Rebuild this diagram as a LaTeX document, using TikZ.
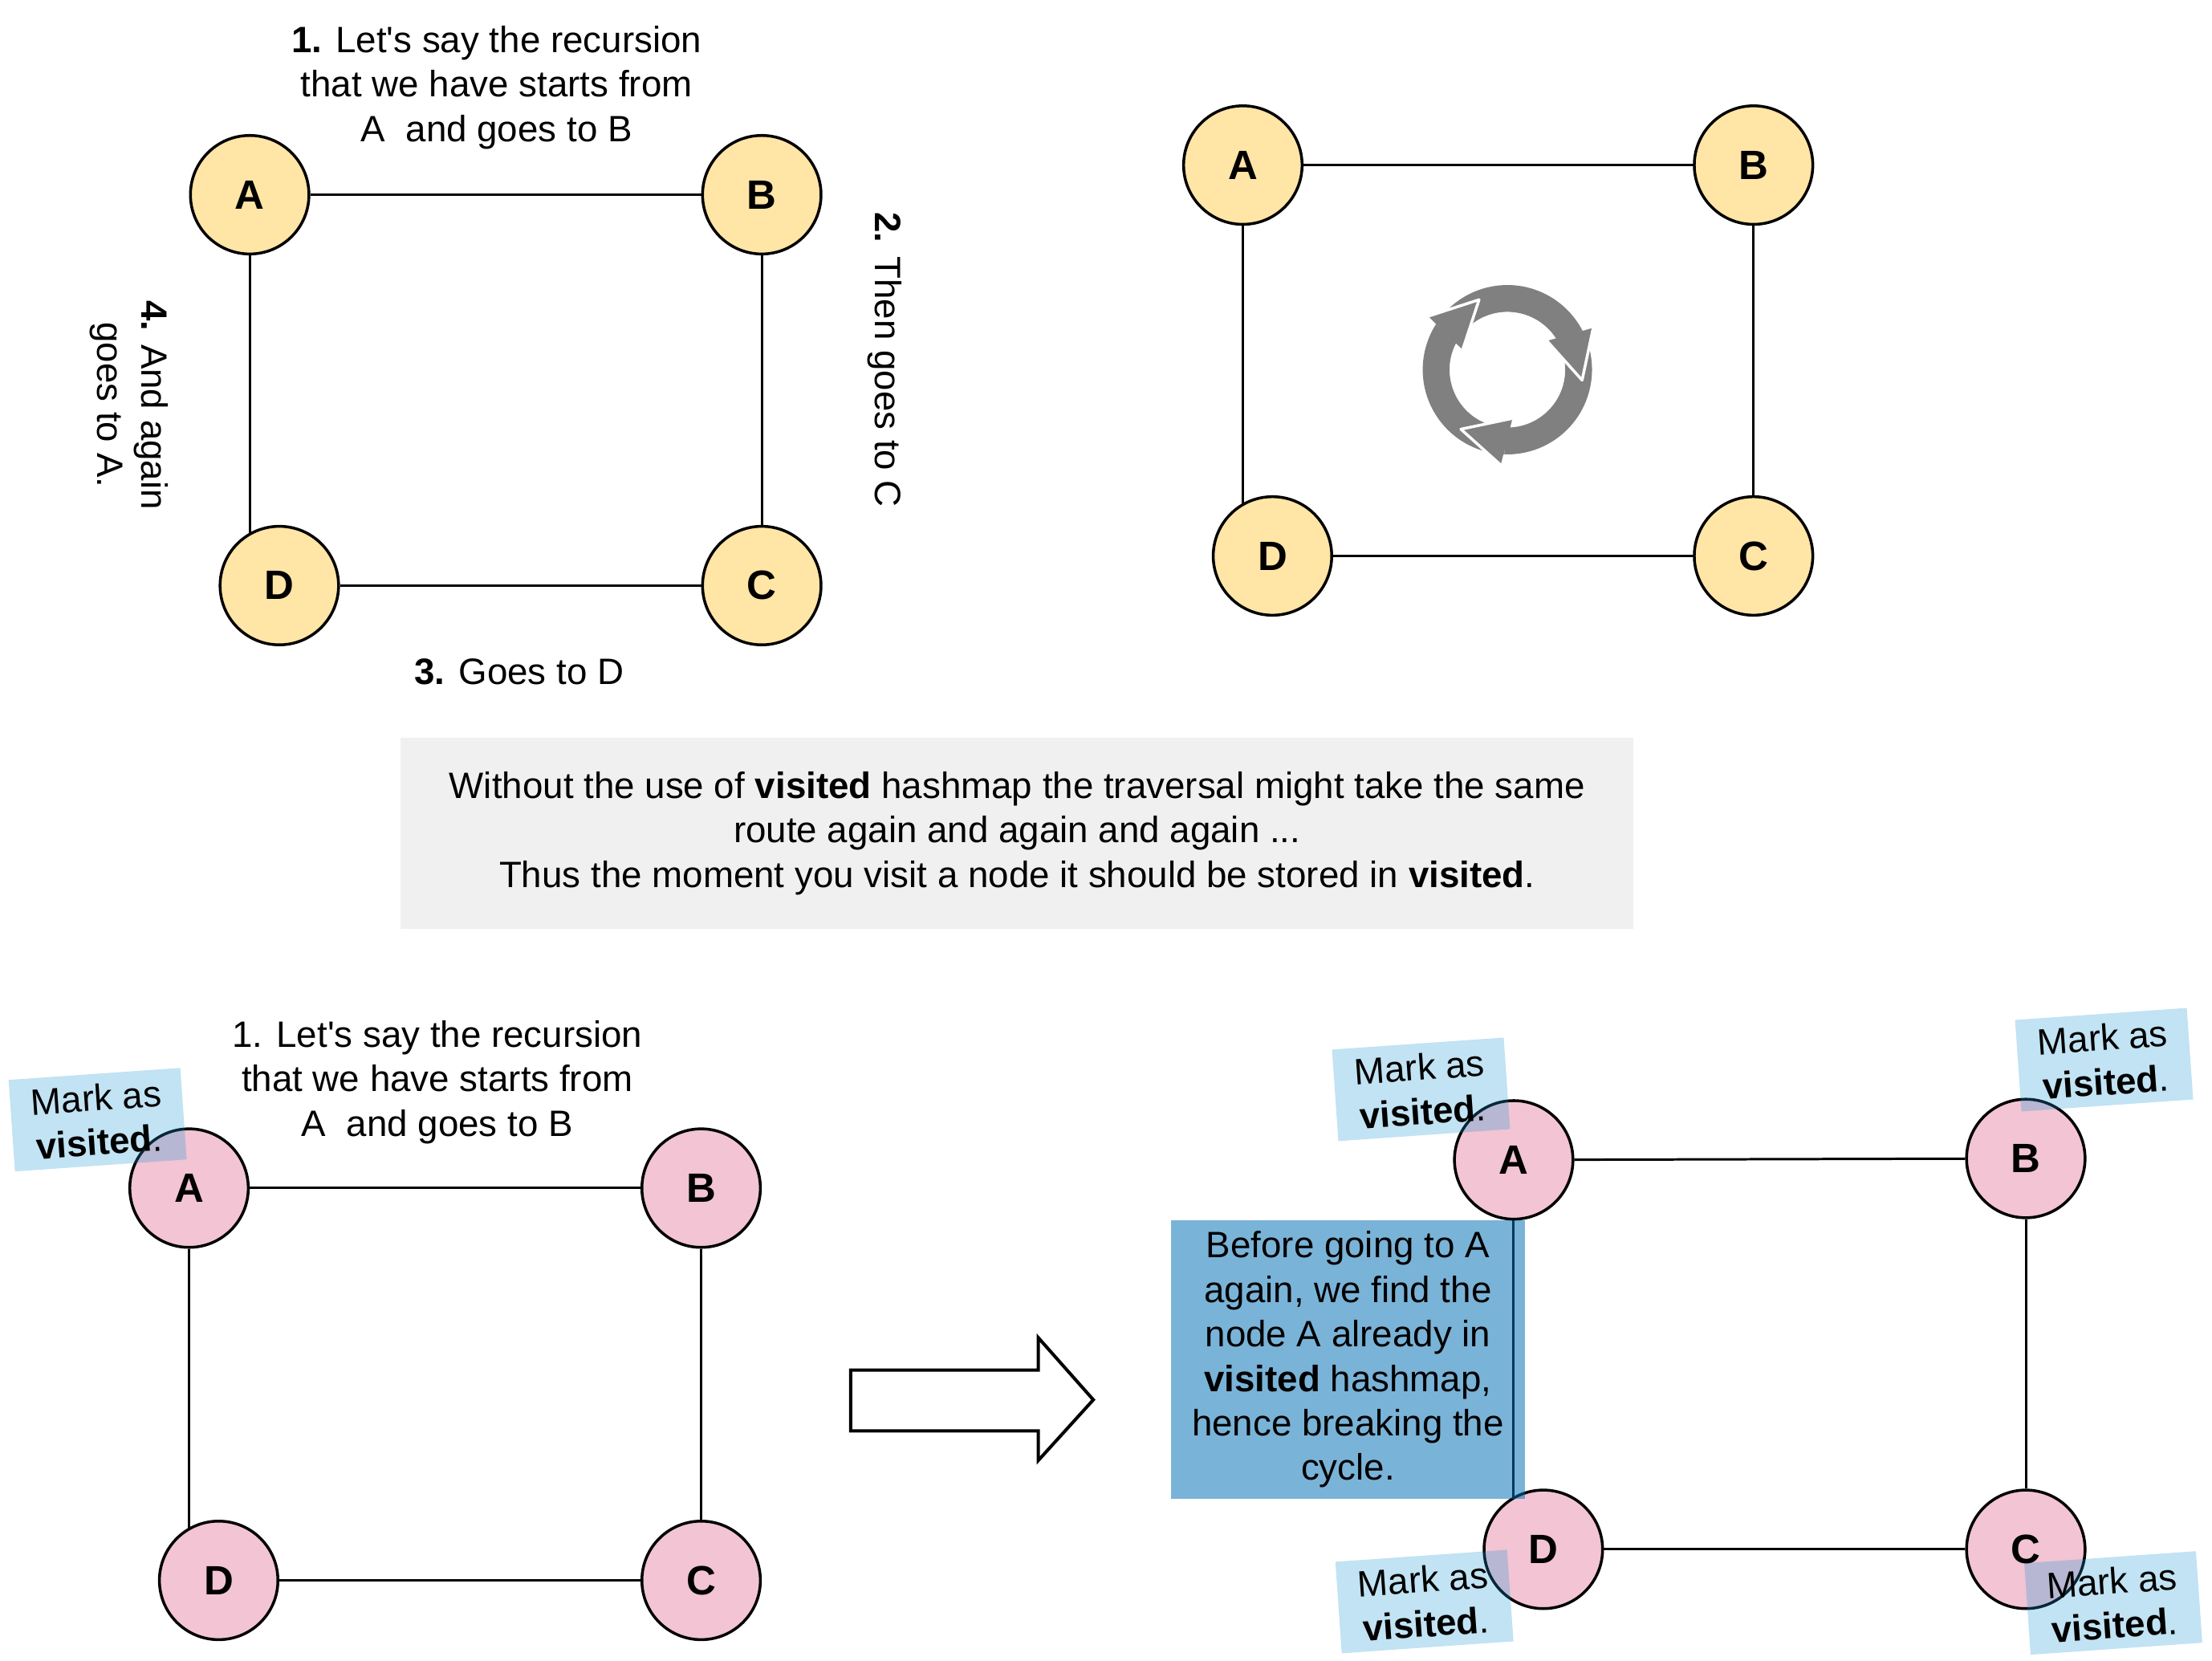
\documentclass[tikz,border=0pt]{standalone}
\usepackage{fontspec}
\setmainfont{Liberation Sans}
\definecolor{ycol}{HTML}{FFE5A6}
\definecolor{pcol}{HTML}{F2C4D4}
\definecolor{boxgray}{HTML}{F0F0F0}
\definecolor{iconcol}{HTML}{808080}
\definecolor{notecol}{RGB}{27,150,210}
\definecolor{bluebox}{RGB}{0,110,180}
\pgfdeclarelayer{edges}
\pgfsetlayers{edges,main}
\begin{document}
\begin{tikzpicture}[x=1pt,y=-1pt,
  every node/.style={font=\fontsize{26}{31.5}\selectfont},
  vert/.style={circle, draw, line width=2pt, minimum size=84pt, inner sep=0pt, font=\fontsize{29}{30}\selectfont\bfseries},
  ynode/.style={vert, fill=ycol},
  pnode/.style={vert, fill=pcol},
  link/.style={line width=1.7pt},
  lbl/.style={align=center, inner sep=0pt},
  note/.style={rectangle, fill=notecol, fill opacity=0.27, text opacity=1, minimum width=122pt, minimum height=65pt, inner sep=0pt, align=center, rotate=4},
]
\useasboundingbox (0,0) rectangle (1568,1176.6);

% ---------- top-left graph ----------
\node[ynode] (A1) at (177,138) {A};
\node[ynode] (B1) at (540,138) {B};
\node[ynode] (D1) at (198,415) {D};
\node[ynode] (C1) at (540,415) {C};
\begin{pgfonlayer}{edges}
\draw[link] (A1) -- (B1);
\draw[link] (B1) -- (C1);
\draw[link] (D1) -- (C1);
\draw[link] (A1.south) -- (A1.south |- D1.center);
\end{pgfonlayer}
\node[lbl] (t1) at (352,62) {\textbf{1.} Let\textquotesingle s say the recursion\\that we have starts from\\A\ \ and goes to B};
\node[lbl, rotate=-90] (t2) at (627,255) {\textbf{2.} Then goes to C};
\node[lbl, rotate=-90] (t4) at (91.5,287) {\textbf{4.} And again\\goes to A.};
\node[lbl] (t3) at (368,476) {\textbf{3.} Goes to D};

% ---------- top-right graph ----------
\node[ynode] (A2) at (881,117) {A};
\node[ynode] (B2) at (1243,117) {B};
\node[ynode] (D2) at (902,394) {D};
\node[ynode] (C2) at (1243,394) {C};
\begin{pgfonlayer}{edges}
\draw[link] (A2) -- (B2);
\draw[link] (B2) -- (C2);
\draw[link] (D2) -- (C2);
\draw[link] (A2.south) -- (A2.south |- D2.center);
\end{pgfonlayer}

% cycle icon
\begin{scope}[shift={(1068.5,262)}, yscale=-1]
 \foreach \t in {112,-8,-128} {
   \pgfmathsetmacro\b{\t+36}
   \pgfmathsetmacro\e{\t+156}
   \fill[iconcol] (\e:60) arc[start angle=\e, end angle=\b, radius=60] -- (\b:41) arc[start angle=\b, end angle=\e, radius=41] -- cycle;
 }
 \foreach \t in {112,-8,-128} {
   \pgfmathsetmacro\ai{\t+44}
   \pgfmathsetmacro\ao{\t+34}
   \fill[iconcol] (\ao:67.7) -- (\t:53.5) -- (\ai:34.7) -- cycle;
   \draw[white, line width=2pt, line join=round] (\ao:67.7) -- (\t:53.5) -- (\ai:34.7);
 }
\end{scope}

% ---------- gray explanation box ----------
\node[rectangle, fill=boxgray, minimum width=874pt, minimum height=135pt, inner sep=0pt, align=center] (expl) at (721,590.5)
 {Without the use of \textbf{visited} hashmap the traversal might take the same\\route again and again and again ...\\Thus the moment you visit a node it should be stored in \textbf{visited}.};

% ---------- bottom-left graph ----------
\node[pnode] (A3) at (134,842) {A};
\node[pnode] (B3) at (497,842) {B};
\node[pnode] (D3) at (155,1120) {D};
\node[pnode] (C3) at (497,1120) {C};
\begin{pgfonlayer}{edges}
\draw[link] (A3) -- (B3);
\draw[link] (B3) -- (C3);
\draw[link] (D3) -- (C3);
\draw[link] (A3.south) -- (A3.south |- D3.center);
\end{pgfonlayer}
\node[lbl] (t5) at (310,767) {1. Let\textquotesingle s say the recursion\\that we have starts from\\A\ \ and goes to B};

% big arrow
\draw[line width=2.3pt] (603,971) -- (736,971) -- (736,948) -- (775,992) -- (736,1035) -- (736,1014) -- (603,1014) -- cycle;

% ---------- bottom-right graph ----------
\node[pnode] (A4) at (1073,822) {A};
\node[pnode] (B4) at (1436,821) {B};
\node[pnode] (D4) at (1094,1098) {D};
\node[pnode] (C4) at (1436,1098) {C};
\begin{pgfonlayer}{edges}
\draw[link] (A4) -- (B4);
\draw[link] (B4) -- (C4);
\draw[link] (D4) -- (C4);
\draw[link] (A4.south) -- (A4.south |- D4.center);
\end{pgfonlayer}
\node[rectangle, fill=bluebox, fill opacity=0.52, text opacity=1, minimum width=251pt, minimum height=197pt, inner sep=0pt, align=center] (why) at (955.5,963.5)
 {Before going to A\\again, we find the\\node A already in\\\textbf{visited} hashmap,\\hence breaking the\\cycle.};

% ---------- notes ----------
\node[note] (n3) at (69.2,793.5) {Mark as\\\textbf{visited}.};
\node[note] (nA) at (1007.3,772) {Mark as\\\textbf{visited}.};
\node[note] (nB) at (1491.5,751) {Mark as\\\textbf{visited}.};
\node[note] (nD) at (1009.7,1135) {Mark as\\\textbf{visited}.};
\node[note] (nC) at (1498,1136) {Mark as\\\textbf{visited}.};
\end{tikzpicture}
\end{document}
